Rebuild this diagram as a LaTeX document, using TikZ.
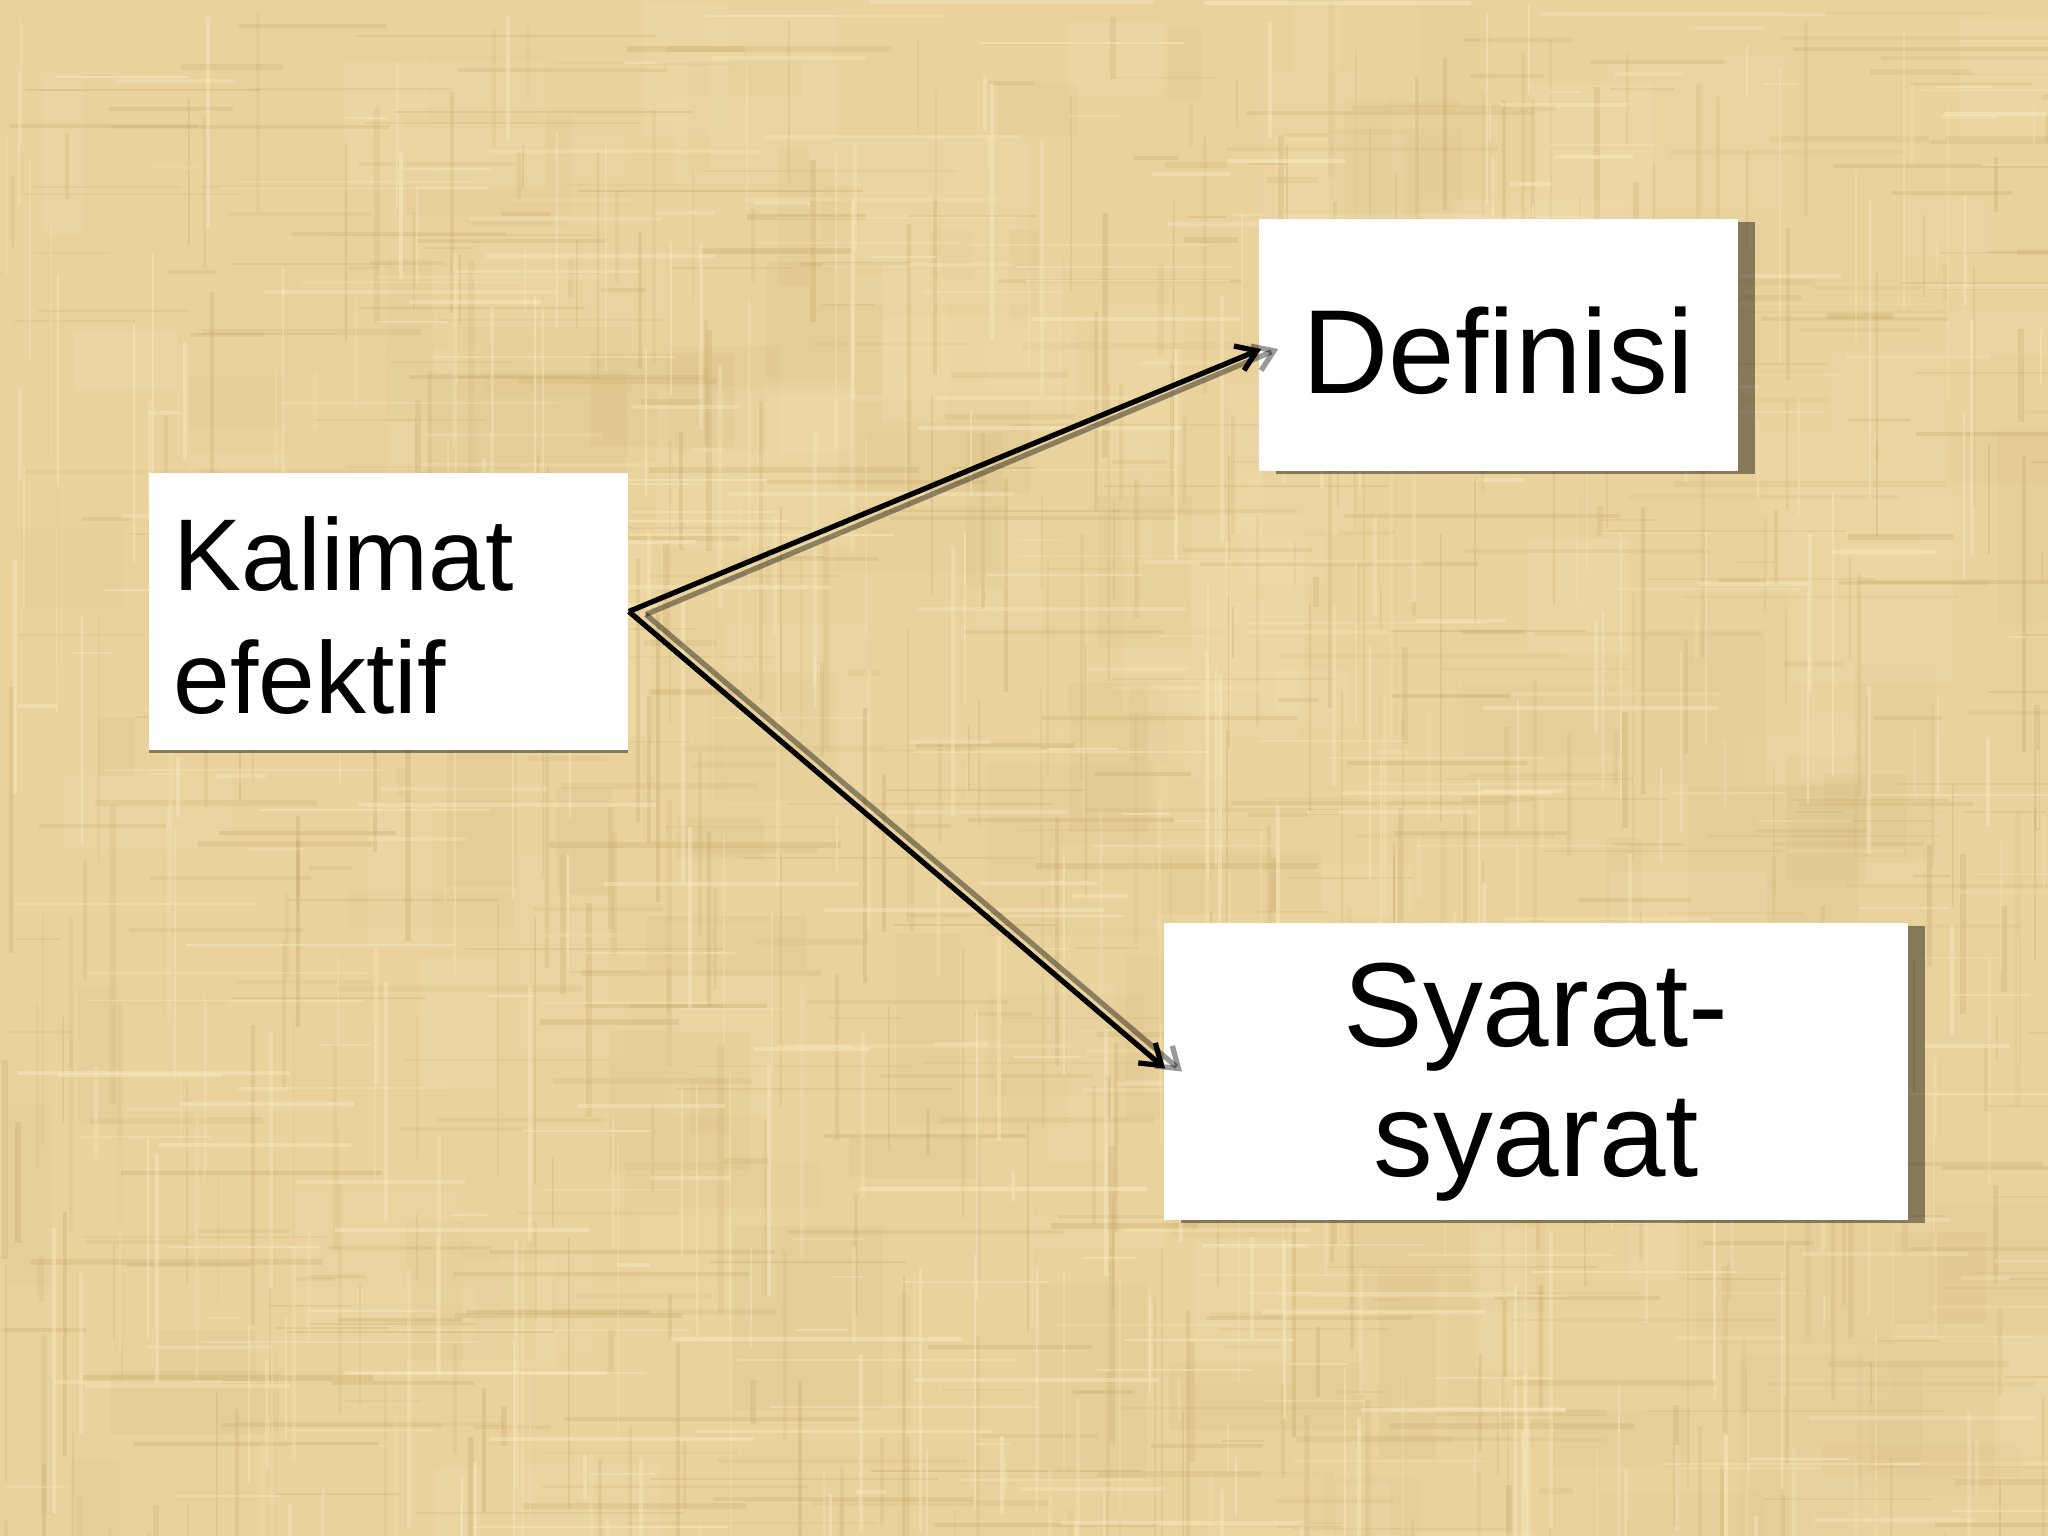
\documentclass[tikz,border=0pt]{standalone}
\usepackage{fontspec}
\setmainfont{Liberation Sans}
\usetikzlibrary{arrows.meta,shadows}
\definecolor{bg}{RGB}{233,210,156}
\definecolor{texd}{RGB}{196,166,102}
\definecolor{texl}{RGB}{250,235,192}
\begin{document}
\begin{tikzpicture}[x=0.01cm,y=-0.01cm,
  box/.style={fill=white, draw=none, inner sep=0pt,
    drop shadow={shadow xshift=0.17cm, shadow yshift=-0.03cm, opacity=0.42, fill=black}},
  boxk/.style={fill=white, draw=none, inner sep=0pt,
    drop shadow={shadow xshift=0cm, shadow yshift=-0.03cm, opacity=0.42, fill=black}},
  txtk/.style={inner sep=0pt, align=left, font=\fontsize{29pt}{35pt}\selectfont},
  txtb/.style={inner sep=0pt, align=center, font=\fontsize{34pt}{37pt}\selectfont},
  conn/.style={line width=1.5pt, black, -{Straight Barb[length=5.5pt,width=7.5pt]}},
  connsh/.style={line width=1.5pt, black, opacity=0.4, -{Straight Barb[length=5.5pt,width=7.5pt]}}]
\useasboundingbox (0,0) rectangle (2048,1536);
\fill[bg] (0,0) rectangle (2048,1536);
% texture
\pgfmathsetseed{11}
\begin{scope}
\clip (0,0) rectangle (2048,1536);
\foreach \i in {1,...,80}{
  \pgfmathsetmacro\xa{random(0,2000)}
  \pgfmathsetmacro\ya{random(0,1500)}
  \pgfmathsetmacro\wa{random(30,200)}
  \pgfmathsetmacro\ha{random(30,200)}
  \pgfmathsetmacro\oa{0.04+0.07*rnd}
  \fill[texd, opacity=\oa] (\xa,\ya) rectangle ++(\wa,\ha);
}
\foreach \i in {1,...,80}{
  \pgfmathsetmacro\xa{random(0,2000)}
  \pgfmathsetmacro\ya{random(0,1500)}
  \pgfmathsetmacro\wa{random(30,200)}
  \pgfmathsetmacro\ha{random(30,200)}
  \pgfmathsetmacro\oa{0.06+0.10*rnd}
  \fill[texl, opacity=\oa] (\xa,\ya) rectangle ++(\wa,\ha);
}
\foreach \i in {1,...,380}{
  \pgfmathsetmacro\xa{random(0,2048)}
  \pgfmathsetmacro\ya{random(0,1536)}
  \pgfmathsetmacro\la{random(30,300)}
  \pgfmathsetmacro\oa{0.10+0.20*rnd}
  \pgfmathsetmacro\wa{0.3+1.4*rnd}
  \draw[texd, opacity=\oa, line width=\wa pt] (\xa,\ya) -- ++(0,\la);
}
\foreach \i in {1,...,380}{
  \pgfmathsetmacro\xa{random(0,2048)}
  \pgfmathsetmacro\ya{random(0,1536)}
  \pgfmathsetmacro\la{random(30,300)}
  \pgfmathsetmacro\oa{0.10+0.20*rnd}
  \pgfmathsetmacro\wa{0.3+1.4*rnd}
  \draw[texd, opacity=\oa, line width=\wa pt] (\xa,\ya) -- ++(\la,0);
}
\foreach \i in {1,...,300}{
  \pgfmathsetmacro\xa{random(0,2048)}
  \pgfmathsetmacro\ya{random(0,1536)}
  \pgfmathsetmacro\la{random(30,300)}
  \pgfmathsetmacro\oa{0.20+0.30*rnd}
  \pgfmathsetmacro\wa{0.3+1.0*rnd}
  \draw[texl, opacity=\oa, line width=\wa pt] (\xa,\ya) -- ++(0,\la);
}
\foreach \i in {1,...,300}{
  \pgfmathsetmacro\xa{random(0,2048)}
  \pgfmathsetmacro\ya{random(0,1536)}
  \pgfmathsetmacro\la{random(30,300)}
  \pgfmathsetmacro\oa{0.20+0.30*rnd}
  \pgfmathsetmacro\wa{0.3+1.0*rnd}
  \draw[texl, opacity=\oa, line width=\wa pt] (\xa,\ya) -- ++(\la,0);
}
\end{scope}
% boxes
\node[boxk, minimum width=4.79cm, minimum height=2.77cm] (k) at (388.5,611.5) {};
\node[box, minimum width=4.79cm, minimum height=2.52cm] (d) at (1498.5,345) {};
\node[box, minimum width=7.44cm, minimum height=2.97cm] (s) at (1536,1071.5) {};
% connectors: shadows then lines
\draw[connsh] ([shift={(17,3)}]k.east) -- ([shift={(20,4)}]d.west);
\draw[connsh] ([shift={(17,3)}]k.east) -- ([shift={(19,0)}]s.west);
\draw[conn] (k.east) -- ([shift={(3,4)}]d.west);
\draw[conn] (k.east) -- ([shift={(2,-3)}]s.west);
% texts
\node[txtk, anchor=west] (kt) at (173,615.5) {Kalimat\\efektif};
\node[txtb] (dt) at (1498.5,351) {Definisi};
\node[txtb] (st) at (1536,1082.5) {Syarat-\\syarat};
\end{tikzpicture}
\end{document}
